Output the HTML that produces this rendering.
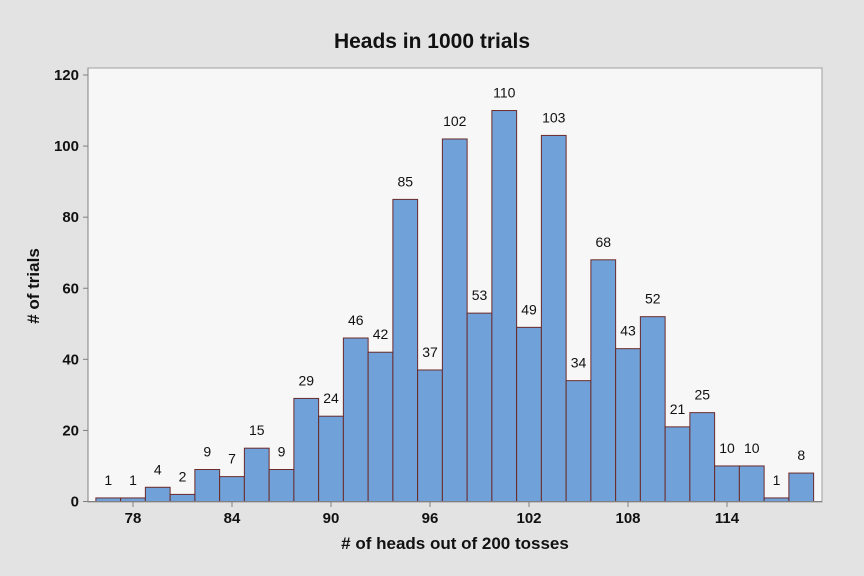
<!DOCTYPE html>
<html><head><meta charset="utf-8"><style>
body{margin:0;background:#e3e3e3}
svg{display:block;font-family:"Liberation Sans",sans-serif}
</style></head><body>
<svg id="chart" width="864" height="576">
<rect x="0" y="0" width="864" height="576" fill="#e3e3e3"/>
<rect x="88" y="68" width="734" height="434" fill="#f7f7f7" stroke="#a0a0a0"/>
<text x="432" y="48" text-anchor="middle" font-size="21" font-weight="bold" fill="#111">Heads in 1000 trials</text>
<text x="455" y="549" text-anchor="middle" font-size="17" font-weight="bold" fill="#111"># of heads out of 200 tosses</text>
<text transform="translate(39,286) rotate(-90)" text-anchor="middle" font-size="17" font-weight="bold" fill="#111"># of trials</text>
<g id="bars"></g><g id="axes"></g>
</svg>
<script>
const counts=[1,1,4,2,9,7,15,9,29,24,46,42,85,37,102,53,110,49,103,34,68,43,52,21,25,10,10,1,8];
const binStart=75.75;
const binWidth=1.5;
const xTicks=[78,84,90,96,102,108,114];
const yTicks=[0,20,40,60,80,100,120];
const NS="http://www.w3.org/2000/svg";
const xs=v=>133+(v-78)*16.5;
const ys=v=>501.5-v*426.5/120;
const bars=document.getElementById('bars'),axes=document.getElementById('axes');
function mk(t,a,p){const e=document.createElementNS(NS,t);for(const k in a)e.setAttribute(k,a[k]);p.appendChild(e);return e;}
counts.forEach((c,i)=>{
  const x0=xs(binStart+i*binWidth),x1=xs(binStart+(i+1)*binWidth);
  const r=mk('rect',{x:x0,y:ys(c),width:x1-x0,height:ys(0)-ys(c),fill:'#70a2d9',stroke:'#6b2a2a','stroke-width':1},bars);
  
  
  const t=mk('text',{x:(x0+x1)/2,y:ys(c)-13,'text-anchor':'middle','font-size':14,fill:'#111'},bars);
  t.textContent=c;
  
  
});
mk('line',{x1:88,y1:501.5,x2:822,y2:501.5,stroke:'#808080'},axes);
mk('line',{x1:88,y1:68,x2:88,y2:502,stroke:'#808080'},axes);
xTicks.forEach(v=>{
  mk('line',{x1:xs(v),y1:502,x2:xs(v),y2:507,stroke:'#808080'},axes);
  const t=mk('text',{x:xs(v),y:523,'text-anchor':'middle','font-size':15,'font-weight':'bold',fill:'#111'},axes);
  t.textContent=v;
  
  
});
yTicks.forEach(v=>{
  mk('line',{x1:83,y1:ys(v),x2:88,y2:ys(v),stroke:'#808080'},axes);
  const t=mk('text',{x:79,y:ys(v)+5,'text-anchor':'end','font-size':15,'font-weight':'bold',fill:'#111'},axes);
  t.textContent=v;
  
  
});
</script>
</body></html>
